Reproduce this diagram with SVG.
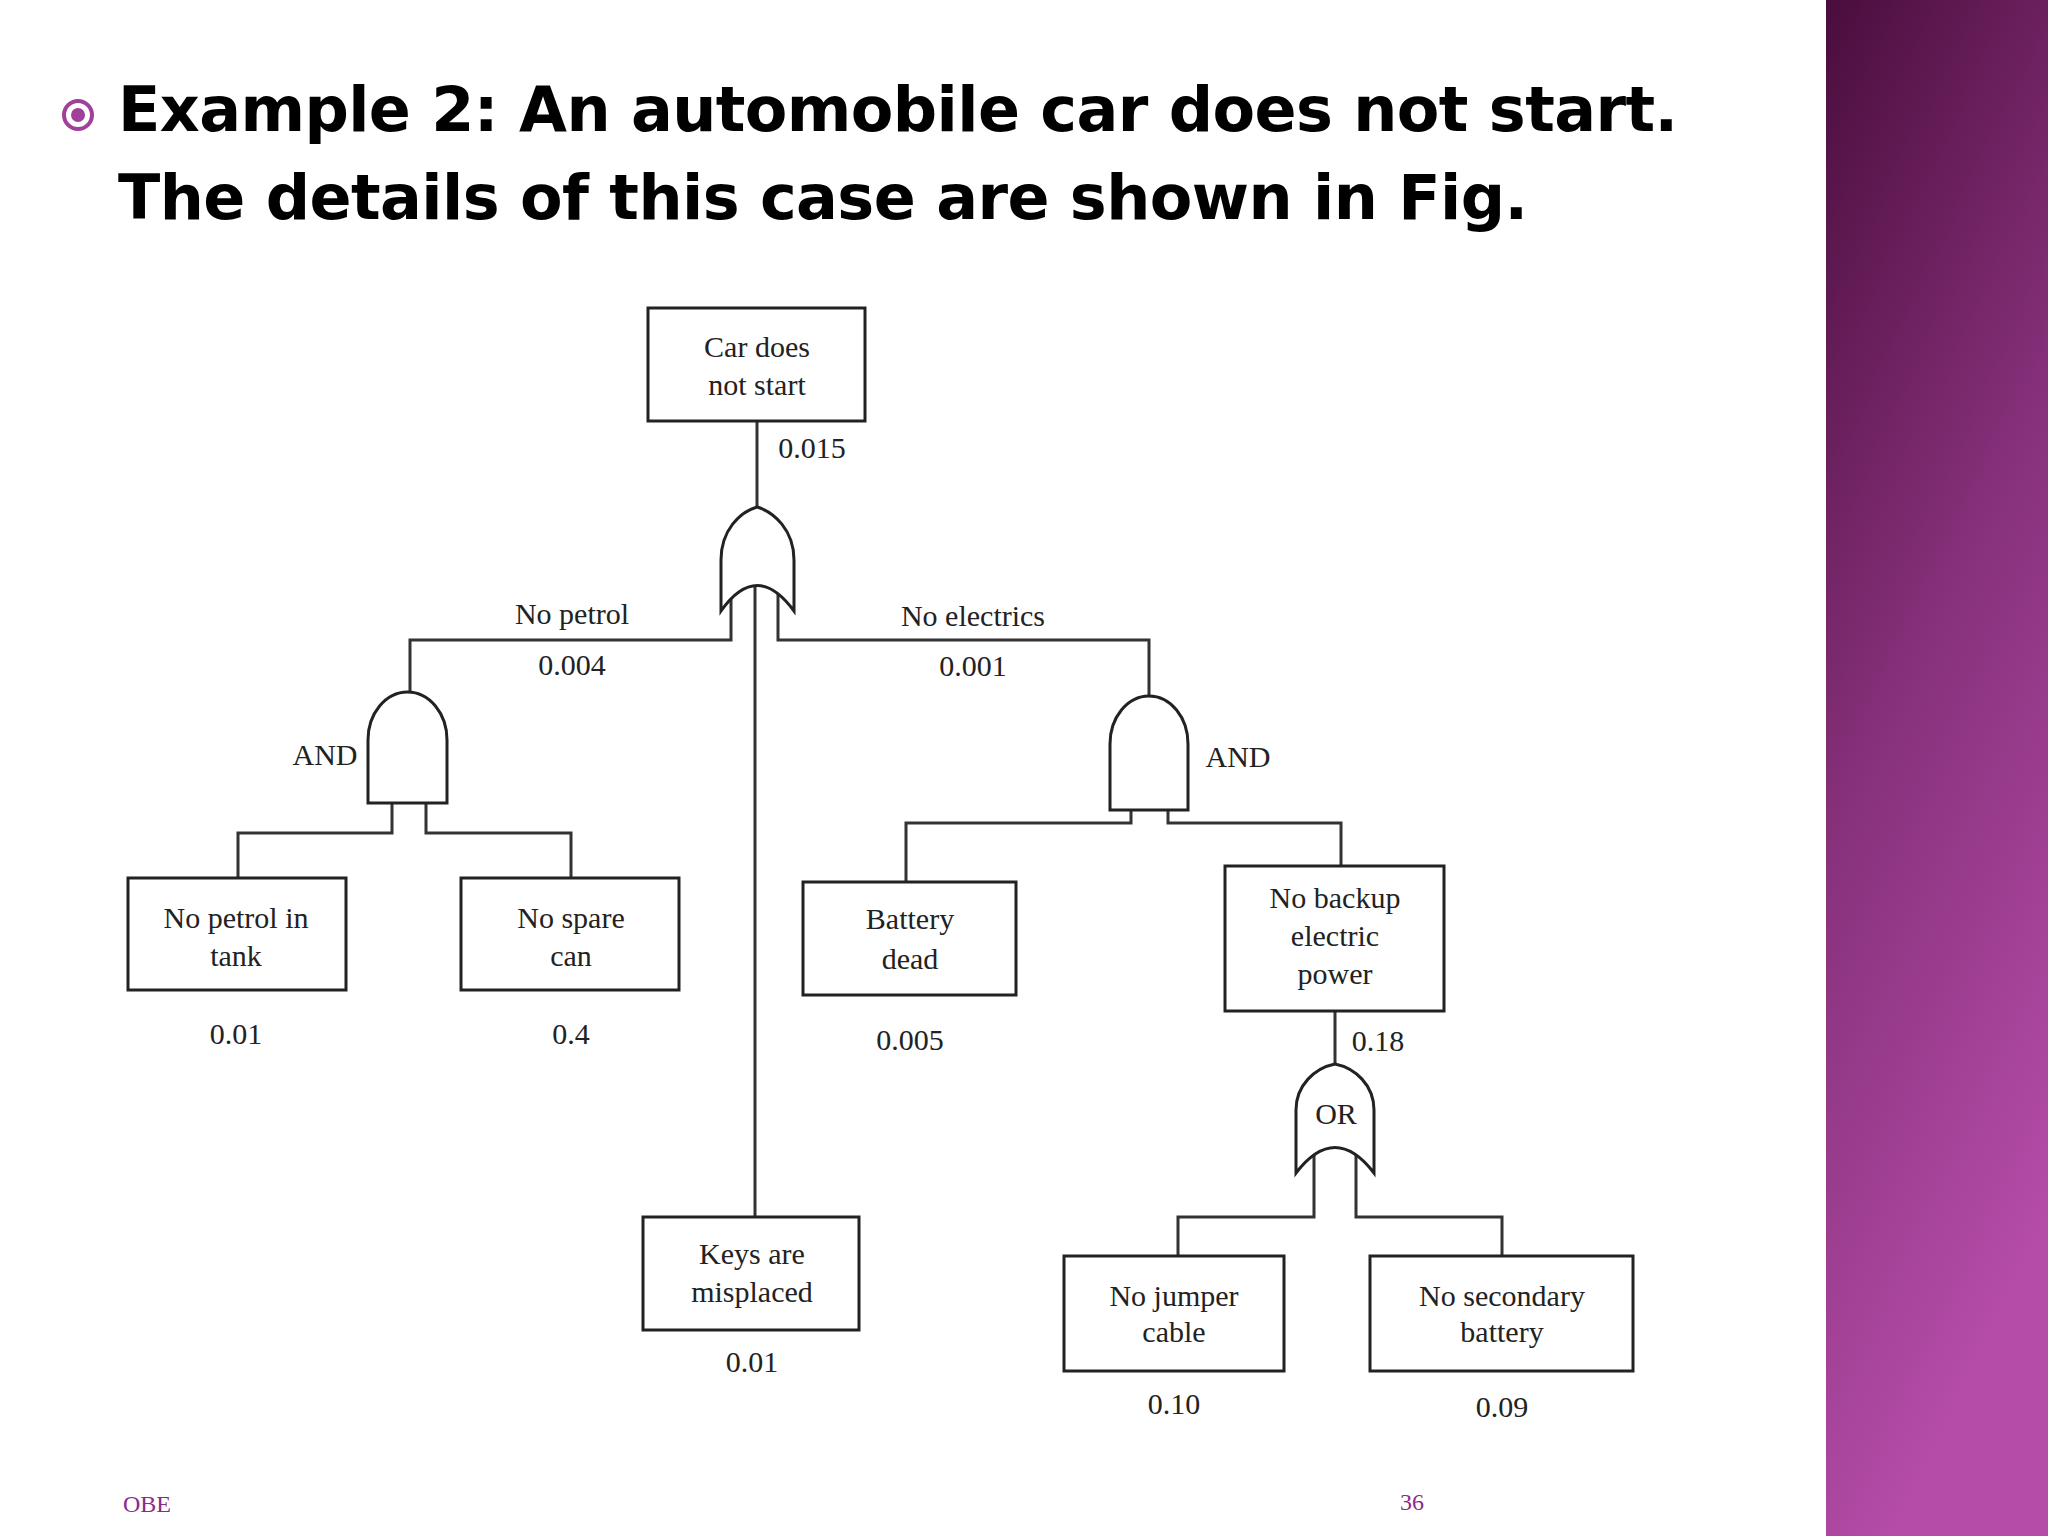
<svg xmlns="http://www.w3.org/2000/svg" width="2048" height="1536" viewBox="0 0 2048 1536">
<defs>
<linearGradient id="side" x1="0" y1="0" x2="0.3" y2="1"><stop offset="0" stop-color="#4a0d3c"/><stop offset="0.5" stop-color="#86307a"/><stop offset="1" stop-color="#b44ca8"/></linearGradient>
<style>
.box{fill:#fff;stroke:#222;stroke-width:3}
.ln{fill:none;stroke:#333;stroke-width:3}
.gate{fill:#fff;stroke:#222;stroke-width:3}
.t{font-family:"Liberation Serif",serif;font-size:30px;fill:#222;text-anchor:middle}
.ttl{font-family:"DejaVu Sans",sans-serif;font-weight:bold;font-size:62px;fill:#000}
.ft{font-family:"Liberation Serif",serif;font-size:24px;fill:#8a2a8a}
</style>
</defs>
<rect width="2048" height="1536" fill="#fff"/>
<rect x="1826" y="0" width="222" height="1536" fill="url(#side)"/>
<g id="title">
<circle cx="78" cy="115" r="14" fill="none" stroke="#a0409a" stroke-width="4"/>
<circle cx="78" cy="115" r="7" fill="#a0409a"/>
<text class="ttl" x="118" y="131" textLength="1560">Example 2: An automobile car does not start.</text>
<text class="ttl" x="118" y="219" textLength="1410">The details of this case are shown in Fig.</text>
</g>
<g id="connectors">
<path class="ln" d="M757,421 V507"/>
<path class="ln" d="M731,590 V640 H410 V692"/>
<path class="ln" d="M778,590 V640 H1149 V696"/>
<path class="ln" d="M755,575 V1217"/>
<path class="ln" d="M392,803 V833 H238 V878"/>
<path class="ln" d="M426,803 V833 H571 V878"/>
<path class="ln" d="M1131,810 V823 H906 V882"/>
<path class="ln" d="M1168,810 V823 H1341 V866"/>
<path class="ln" d="M1335,1011 V1064"/>
<path class="ln" d="M1314,1150 V1217 H1178 V1256"/>
<path class="ln" d="M1356,1150 V1217 H1502 V1256"/>
</g>
<g id="top"><rect class="box" x="648" y="308" width="217" height="113"/><text class="t" x="757" y="357">Car does</text><text class="t" x="757" y="395">not start</text><text class="t" x="812" y="458">0.015</text></g>
<g id="gate_or_top"><path class="gate" d="M721,611 L721,560 C721,530 740,512 757,507 C774,512 794,530 794,560 L794,611 Q757,560 721,611 Z"/></g>
<g id="lbl_petrol"><text class="t" x="572" y="624">No petrol</text><text class="t" x="572" y="675">0.004</text></g>
<g id="lbl_elec"><text class="t" x="973" y="626">No electrics</text><text class="t" x="973" y="676">0.001</text></g>
<g id="gate_and_left"><path class="gate" d="M368,803 L368,740 A39.5,48 0 0 1 447,740 L447,803 Z"/><text class="t" x="325" y="765">AND</text></g>
<g id="gate_and_right"><path class="gate" d="M1110,810 L1110,744 A39,48 0 0 1 1188,744 L1188,810 Z"/><text class="t" x="1238" y="767">AND</text></g>
<g id="n_petrol"><rect class="box" x="128" y="878" width="218" height="112"/><text class="t" x="236" y="928">No petrol in</text><text class="t" x="236" y="966">tank</text><text class="t" x="236" y="1044">0.01</text></g>
<g id="n_spare"><rect class="box" x="461" y="878" width="218" height="112"/><text class="t" x="571" y="928">No spare</text><text class="t" x="571" y="966">can</text><text class="t" x="571" y="1044">0.4</text></g>
<g id="n_battery"><rect class="box" x="803" y="882" width="213" height="113"/><text class="t" x="910" y="929">Battery</text><text class="t" x="910" y="969">dead</text><text class="t" x="910" y="1050">0.005</text></g>
<g id="n_backup"><rect class="box" x="1225" y="866" width="219" height="145"/><text class="t" x="1335" y="908">No backup</text><text class="t" x="1335" y="946">electric</text><text class="t" x="1335" y="984">power</text><text class="t" x="1378" y="1051">0.18</text></g>
<g id="gate_or_right"><path class="gate" d="M1296,1173 L1296,1110 C1296,1085 1315,1068 1335,1064 C1355,1068 1374,1085 1374,1110 L1374,1173 Q1335,1122 1296,1173 Z"/><text class="t" x="1336" y="1124">OR</text></g>
<g id="n_keys"><rect class="box" x="643" y="1217" width="216" height="113"/><text class="t" x="752" y="1264">Keys are</text><text class="t" x="752" y="1302">misplaced</text><text class="t" x="752" y="1372">0.01</text></g>
<g id="n_jumper"><rect class="box" x="1064" y="1256" width="220" height="115"/><text class="t" x="1174" y="1306">No jumper</text><text class="t" x="1174" y="1342">cable</text><text class="t" x="1174" y="1414">0.10</text></g>
<g id="n_secondary"><rect class="box" x="1370" y="1256" width="263" height="115"/><text class="t" x="1502" y="1306">No secondary</text><text class="t" x="1502" y="1342">battery</text><text class="t" x="1502" y="1417">0.09</text></g>
<g id="footer"><text class="ft" x="123" y="1512">OBE</text><text class="ft" x="1400" y="1510">36</text></g>
</svg>
